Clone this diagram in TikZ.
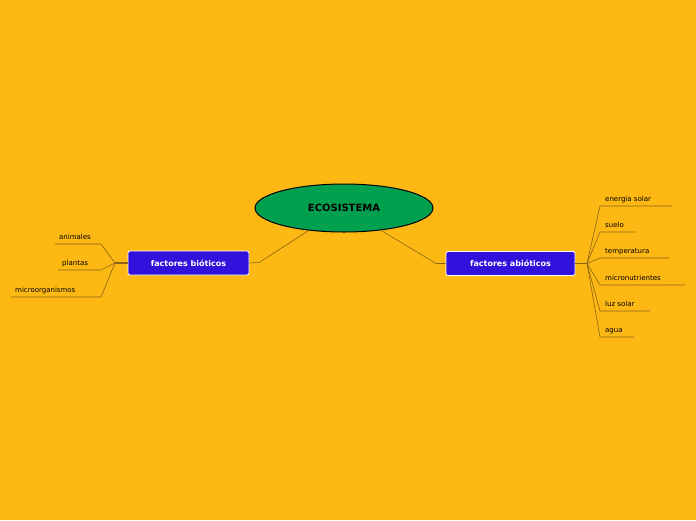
\documentclass[tikz,border=0pt]{standalone}
\usepackage{fontspec}
\usetikzlibrary{shapes.geometric}
\setmainfont{DejaVu Sans}
\definecolor{bg}{HTML}{FDB813}
\definecolor{ln}{HTML}{8A6414}
\definecolor{grn}{HTML}{00A04F}
\definecolor{blu}{HTML}{3311DD}
\begin{document}
\begin{tikzpicture}[x=1pt,y=-1pt,
  leaf/.style={inner sep=0pt,anchor=base west,font=\fontsize{7}{8}\selectfont},
  br/.style={draw=ln,line width=0.6pt},
  mid/.style={draw=white,fill=blu,rounded corners=2pt,minimum height=24pt,text=white,font=\bfseries\fontsize{8}{10}\selectfont,line width=0.8pt}]
\fill[bg] (0,0) rectangle (696,520);
\useasboundingbox (0,0) rectangle (696,520);
\node[ellipse,draw=black,fill=grn,line width=1pt,minimum width=178pt,minimum height=48pt,font=\bfseries\fontsize{10}{12}\selectfont] (eco) at (344,208) {ECOSISTEMA};
\node[mid,minimum width=121pt] (bio) at (188.5,263) {factores bióticos};
\node[mid,minimum width=129pt] (abio) at (510.5,263.5) {factores abióticos};
\coordinate (e1) at (308,231); \coordinate (e2) at (382,231);
\draw[br] (e1) -- (259,262.5) -- (bio.east);
\draw[br] (e2) -- (436,263.5) -- (abio.west);
% left
\coordinate (jl) at (115,263);
\draw[ln,line width=1.2pt] (bio.west) -- (jl);
\foreach \t/\y/\x in {animales/244/55, plantas/270/58, microorganismos/297/11}{
  \node[leaf] (L\y) at (\x+4,\y-5) {\t};
  \draw[br] (jl) -- (101,\y) -- (\x,\y);
}
% right
\coordinate (jr) at (587,263.5);
\draw[ln,line width=1.2pt] (abio.east) -- (jr);
\foreach \t/\y/\x in {energia solar/206/672, suelo/232/635, temperatura/258/669, micronutrientes/285/685, luz solar/311/650, agua/337/634}{
  \node[leaf] (R\y) at (605,\y-5) {\t};
  \draw[br] (jr) -- (600,\y) -- (\x,\y);
}
\end{tikzpicture}
\end{document}
